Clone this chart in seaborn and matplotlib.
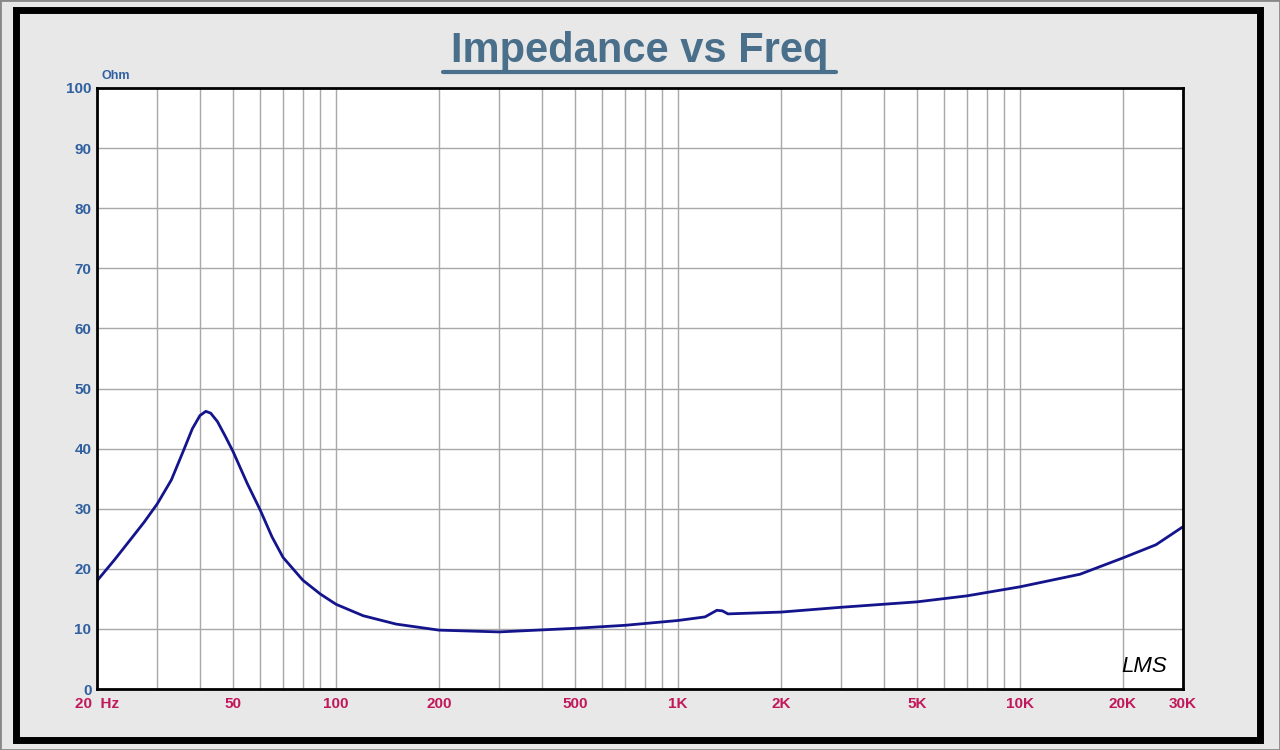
import numpy as np
import matplotlib
matplotlib.use("Agg")
import matplotlib.pyplot as plt
import seaborn as sns
import pandas as pd
from matplotlib.patches import Rectangle

freq = [20, 22.5, 25, 27.5, 30, 33, 36, 38, 40, 41.6, 43, 45, 47.5, 50, 55, 60, 65, 70, 80, 90,
        100, 120, 150, 200, 300, 500, 700, 1000, 1200, 1300, 1350, 1400, 2000, 3000, 5000, 7000,
        10000, 15000, 20000, 25000, 30000]
ohm = [18.0, 21.5, 24.8, 27.8, 30.8, 34.8, 40.0, 43.3, 45.5, 46.2, 45.9, 44.5, 42.0, 39.5,
       34.2, 29.8, 25.3, 21.9, 18.1, 15.8, 14.1, 12.2, 10.8, 9.8, 9.5, 10.1, 10.6, 11.4, 12.0,
       13.1, 13.0, 12.5, 12.8, 13.6, 14.5, 15.5, 17.0, 19.1, 21.8, 24.0, 27.0]
tick_vals = [20, 50, 100, 200, 500, 1000, 2000, 5000, 10000, 20000, 30000]
tick_labels = ["20  Hz", "50", "100", "200", "500", "1K", "2K", "5K", "10K", "20K", "30K"]

sns.set_style("white")
plt.rcParams['font.family'] = ['Liberation Sans', 'DejaVu Sans']
fig = plt.figure(figsize=(12.8, 7.5), dpi=100, facecolor="#e8e8e8")
ax = fig.add_axes([0.0758, 0.0813, 0.8484, 0.8014])
df = pd.DataFrame({"f": freq, "z": ohm})
sns.lineplot(data=df, x="f", y="z", ax=ax, color="#14148c", lw=2)
ax.set_xscale("log")
ax.set_xlim(20, 30000)
ax.set_ylim(0, 100)
minor = []
for dec in [10, 100, 1000, 10000]:
    for m in range(1, 10):
        v = dec * m
        if 20 <= v <= 30000:
            minor.append(v)
for v in minor:
    ax.axvline(v, color="#a8a8a8", lw=1, zorder=0)
for y in range(10, 100, 10):
    ax.axhline(y, color="#a8a8a8", lw=1, zorder=0)
ax.set_xticks(tick_vals)
ax.set_xticklabels(tick_labels)
ax.xaxis.set_minor_locator(matplotlib.ticker.NullLocator())
ax.set_yticks(range(0, 101, 10))
ax.tick_params(axis="x", colors="#c0185a", labelsize=11, length=0, pad=6)
ax.tick_params(axis="y", colors="#3060a0", labelsize=11, length=0, pad=4)
for l in ax.get_xticklabels() + ax.get_yticklabels():
    l.set_fontweight("bold")
ax.set_xlabel(""); ax.set_ylabel("")
for s in ax.spines.values():
    s.set_color("black"); s.set_linewidth(2); s.set_visible(True)
ax.text(0.004, 1.01, "Ohm", transform=ax.transAxes, color="#3060a0", fontsize=9,
        fontweight="bold", ha="left", va="bottom")
ax.text(0.985, 0.02, "LMS", transform=ax.transAxes, fontsize=16, style="italic",
        ha="right", va="bottom", color="black")
fig.text(0.5, 0.932, "Impedance vs Freq", ha="center", va="center", fontsize=30,
         fontweight="bold", color="#4a6f8a")
fig.add_artist(matplotlib.lines.Line2D([0.346, 0.653], [0.904, 0.904], color="#4a6f8a", lw=3))
fig.add_artist(Rectangle((0.0125, 0.0133), 0.972, 0.973, fill=False, lw=5, ec="black",
                         transform=fig.transFigure))
fig.add_artist(Rectangle((0.0, 0.0), 1.0, 1.0, fill=False, lw=2, ec="#888888",
                         transform=fig.transFigure))
fig.savefig("out.png", dpi=100, facecolor=fig.get_facecolor())
